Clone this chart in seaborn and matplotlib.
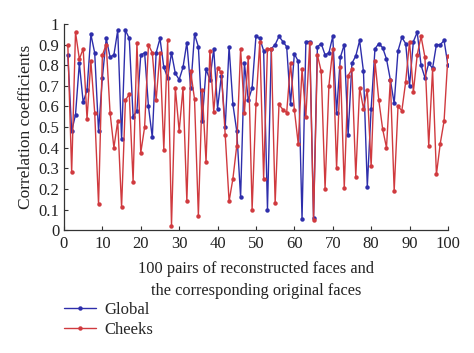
import numpy as np
import pandas as pd
import matplotlib
matplotlib.use("Agg")
import matplotlib.pyplot as plt
import seaborn as sns

# ---------------------------------------------------------
# Dane
# ---------------------------------------------------------
pairs = list(range(1, 101))

global_coef = [
    0.85, 0.48, 0.56, 0.81, 0.62, 0.68, 0.95, 0.86, 0.48, 0.74,
    0.93, 0.84, 0.85, 0.97, 0.44, 0.97, 0.93, 0.55, 0.58, 0.85,
    0.86, 0.60, 0.45, 0.86, 0.93, 0.79, 0.74, 0.86, 0.76, 0.73,
    0.79, 0.91, 0.69, 0.95, 0.89, 0.53, 0.78, 0.73, 0.88, 0.59,
    0.75, 0.50, 0.89, 0.61, 0.48, 0.16, 0.81, 0.63, 0.69, 0.94,
    0.93, 0.87, 0.10, 0.88, 0.90, 0.94, 0.915, 0.89, 0.61, 0.855,
    0.82, 0.053, 0.915, 0.915, 0.06, 0.89, 0.905, 0.85, 0.86, 0.94,
    0.57, 0.84, 0.90, 0.46, 0.81, 0.845, 0.92, 0.77, 0.21, 0.59,
    0.88, 0.905, 0.885, 0.83, 0.73, 0.615, 0.87, 0.935, 0.905, 0.70,
    0.915, 0.96, 0.80, 0.74, 0.81, 0.785, 0.90, 0.90, 0.92, 0.80,
]

cheeks_coef = [
    0.90, 0.28, 0.96, 0.83, 0.88, 0.54, 0.82, 0.57, 0.125, 0.85,
    0.90, 0.57, 0.40, 0.53, 0.11, 0.63, 0.66, 0.235, 0.91, 0.375,
    0.50, 0.90, 0.86, 0.63, 0.86, 0.39, 0.92, 0.02, 0.69, 0.48,
    0.69, 0.14, 0.77, 0.635, 0.07, 0.68, 0.33, 0.87, 0.575, 0.785,
    0.765, 0.46, 0.14, 0.25, 0.41, 0.88, 0.57, 0.84, 0.10, 0.61,
    0.915, 0.25, 0.88, 0.88, 0.13, 0.61, 0.585, 0.57, 0.81, 0.585,
    0.42, 0.78, 0.55, 0.91, 0.05, 0.85, 0.77, 0.20, 0.70, 0.88,
    0.30, 0.79, 0.205, 0.75, 0.78, 0.26, 0.69, 0.59, 0.68, 0.31,
    0.82, 0.63, 0.49, 0.40, 0.73, 0.19, 0.60, 0.58, 0.72, 0.915,
    0.67, 0.85, 0.94, 0.84, 0.41, 0.78, 0.27, 0.42, 0.53, 0.845,
]

series_names = ["Global", "Cheeks"]
colors = {"Global": "#2e2eab", "Cheeks": "#d03a3f"}

x_ticks = list(range(0, 101, 10))
y_ticks = [0, 0.1, 0.2, 0.3, 0.4, 0.5, 0.6, 0.7, 0.8, 0.9, 1.0]
y_tick_labels = ["0", "0.1", "0.2", "0.3", "0.4", "0.5", "0.6", "0.7", "0.8", "0.9", "1"]

df = pd.DataFrame({
    "pair": pairs * 2,
    "coef": global_coef + cheeks_coef,
    "series": ["Global"] * len(pairs) + ["Cheeks"] * len(pairs),
})

# ---------------------------------------------------------
# Wykres
# ---------------------------------------------------------
sns.set_style("ticks")
plt.rcParams["font.family"] = ["Liberation Serif", "DejaVu Serif"]
plt.rcParams["xtick.direction"] = "in"
plt.rcParams["ytick.direction"] = "in"

fig = plt.figure(figsize=(4.74, 3.53), dpi=100)
ax = fig.add_axes([0.135, 0.348, 0.81, 0.584])

sns.lineplot(
    data=df, x="pair", y="coef", hue="series", hue_order=series_names,
    palette=colors, marker="o", markersize=3.2, markeredgewidth=0,
    linewidth=1.0, ax=ax, legend=False,
)

ax.set_xlim(0, 100)
ax.set_ylim(0, 1)
ax.set_xticks(x_ticks)
ax.set_yticks(y_ticks)
ax.set_yticklabels(y_tick_labels)
ax.tick_params(labelsize=12, length=3, width=0.8, colors="#333333", labelcolor="#222222")
ax.tick_params(axis="x", pad=4)
ax.set_xlabel("100 pairs of reconstructed faces and\nthe corresponding original faces",
              fontsize=11.8, color="#222222", labelpad=7, linespacing=1.45)
ax.set_ylabel("Correlation coefficients", fontsize=12.5, color="#222222", labelpad=3)
sns.despine(ax=ax)
for s in ["left", "bottom"]:
    ax.spines[s].set_color("#333333")
    ax.spines[s].set_linewidth(0.9)

handles = [plt.Line2D([], [], color=colors[n], marker="o", markersize=3.2,
                      markeredgewidth=0, linewidth=1.0) for n in series_names]
fig.legend(handles, series_names, loc="upper left", bbox_to_anchor=(0.135, 0.145),
           frameon=False, fontsize=12, handlelength=1.9, handletextpad=0.55,
           labelspacing=0.25, borderpad=0, borderaxespad=0)

fig.savefig("out.png", dpi=100)
